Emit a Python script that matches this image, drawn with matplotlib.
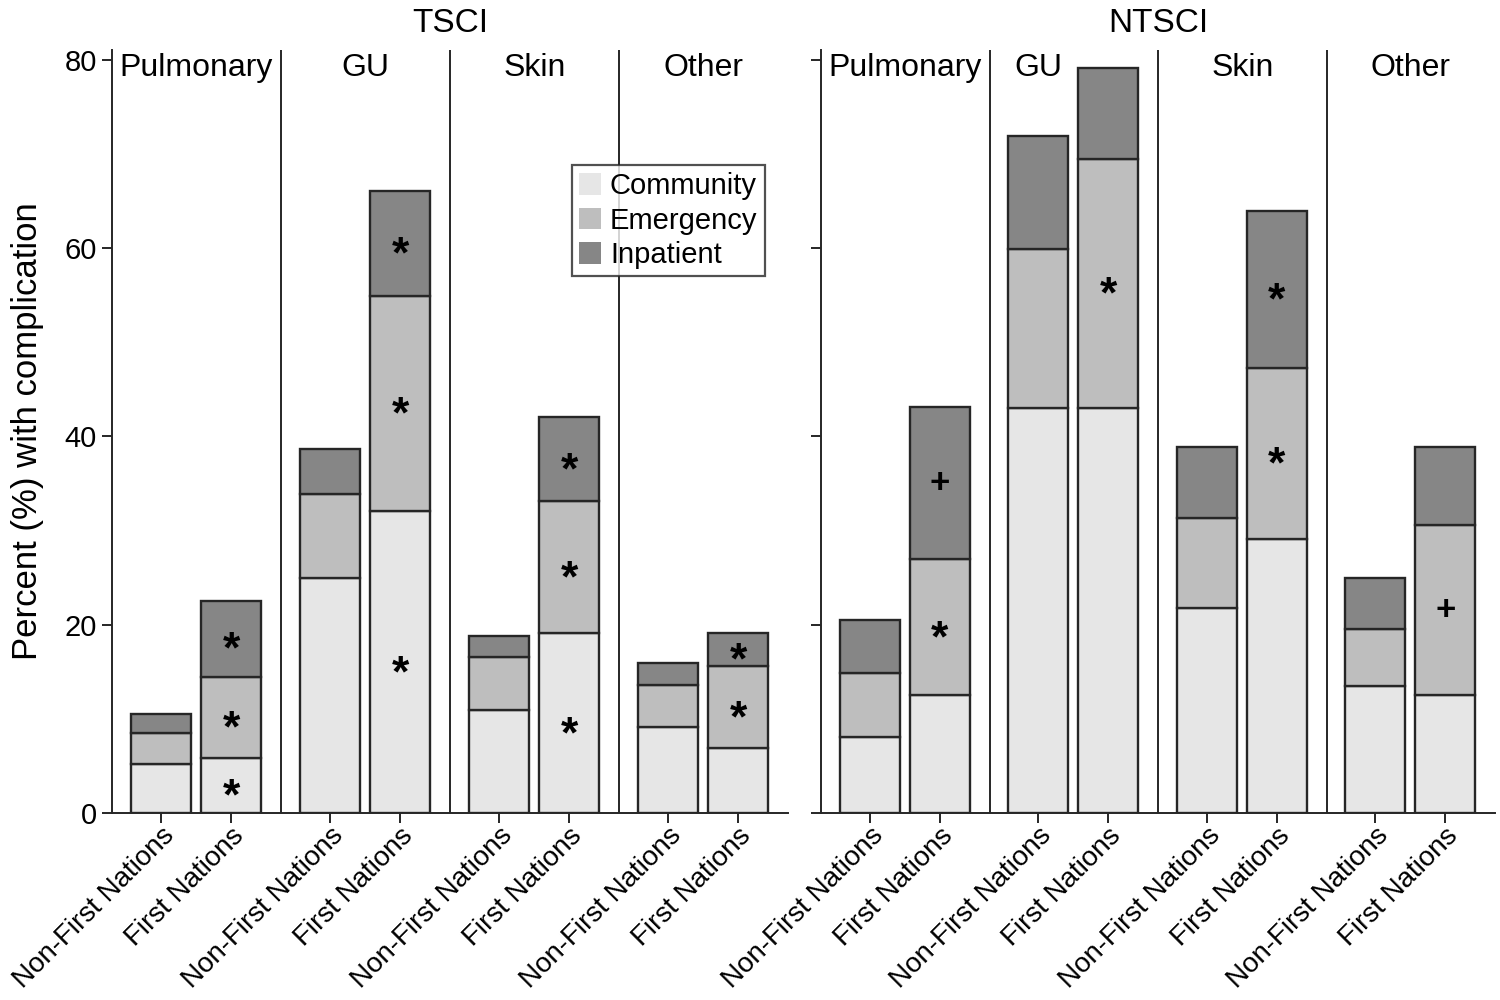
import matplotlib
matplotlib.use("Agg")
import matplotlib.pyplot as plt
from matplotlib.patches import Patch
import numpy as np

plt.rcParams['font.family'] = ['Liberation Sans', 'DejaVu Sans']

panels = ["TSCI", "NTSCI"]
groups = ["Pulmonary", "GU", "Skin", "Other"]
bar_labels = ["Non-First Nations", "First Nations"]
layers = ["Community", "Emergency", "Inpatient"]

# segment heights per layer: [panel][group][bar]
community = {
    "TSCI":  [[5.2, 5.8], [25.0, 32.1], [10.9, 19.1], [9.1, 6.9]],
    "NTSCI": [[8.1, 12.5], [43.0, 43.0], [21.8, 29.1], [13.5, 12.5]],
}
emergency = {
    "TSCI":  [[3.3, 8.7], [8.9, 22.8], [5.7, 14.0], [4.5, 8.7]],
    "NTSCI": [[6.8, 14.5], [16.9, 26.5], [9.5, 18.2], [6.0, 18.1]],
}
inpatient = {
    "TSCI":  [[2.0, 8.0], [4.8, 11.2], [2.2, 9.0], [2.3, 3.5]],
    "NTSCI": [[5.6, 16.1], [12.0, 9.7], [7.6, 16.7], [5.5, 8.3]],
}
# significance marks: (panel, group, bar, layer, symbol)
marks = [
    ("TSCI", 0, 1, 0, "*"), ("TSCI", 0, 1, 1, "*"), ("TSCI", 0, 1, 2, "*"),
    ("TSCI", 1, 1, 0, "*"), ("TSCI", 1, 1, 1, "*"), ("TSCI", 1, 1, 2, "*"),
    ("TSCI", 2, 1, 0, "*"), ("TSCI", 2, 1, 1, "*"), ("TSCI", 2, 1, 2, "*"),
    ("TSCI", 3, 1, 1, "*"), ("TSCI", 3, 1, 2, "*"),
    ("NTSCI", 0, 1, 1, "*"), ("NTSCI", 0, 1, 2, "+"),
    ("NTSCI", 1, 1, 1, "*"),
    ("NTSCI", 2, 1, 1, "*"), ("NTSCI", 2, 1, 2, "*"),
    ("NTSCI", 3, 1, 1, "+"),
]

colors = ["#e6e6e6", "#bebebe", "#868686"]
edge = "#262626"
offsets = [-0.21, 0.205]
bw = 0.355
# group label horizontal shift (NTSCI GU label sits over its first bar)
label_shift = {"TSCI": [0, 0, 0, 0], "NTSCI": [0, -0.21, 0, 0]}

W, H = 1500, 1000
fig = plt.figure(figsize=(15, 10), dpi=100)
axL = fig.add_axes([112 / W, 187 / H, 676 / W, 763 / H])
axR = fig.add_axes([821 / W, 187 / H, 674 / W, 763 / H])
axes = {"TSCI": axL, "NTSCI": axR}

for p in panels:
    ax = axes[p]
    data = [community[p], emergency[p], inpatient[p]]
    xs, labs = [], []
    for g in range(len(groups)):
        for b in range(2):
            x = g + offsets[b]
            xs.append(x)
            labs.append(bar_labels[b])
            bottom = 0
            for li in range(3):
                h = data[li][g][b]
                ax.bar(x, h, bw, bottom=bottom, color=colors[li], edgecolor=edge,
                       linewidth=1.7, zorder=2)
                bottom += h
        ax.text(g + label_shift[p][g], 79.1, groups[g], ha='center', va='center', fontsize=23)
    for s in [0.5, 1.5, 2.5]:
        ax.axvline(s, color=edge, lw=1.4, zorder=1)
    ax.set_xlim(-0.5, 3.5)
    ax.set_ylim(0, 81.06)
    ax.set_xticks(xs)
    ax.set_xticklabels(labs, rotation=45, ha='right', rotation_mode='anchor', fontsize=20)
    ax.set_yticks([0, 20, 40, 60, 80])
    ax.tick_params(axis='both', length=7, width=1.4, color=edge, labelsize=21, pad=4)
    ax.tick_params(axis='x', labelsize=20, pad=0)
    for sp in ['top', 'right']:
        ax.spines[sp].set_visible(False)
    for sp in ['left', 'bottom']:
        ax.spines[sp].set_linewidth(1.4)
        ax.spines[sp].set_color(edge)
    ax.set_title(p, fontsize=24, pad=13)

    for (pp, g, b, li, sym) in marks:
        if pp != p:
            continue
        lo = sum(data[k][g][b] for k in range(li))
        mid = lo + data[li][g][b] / 2
        if sym == "*":
            ax.annotate(sym, (g + offsets[b], mid), xytext=(0, -9), textcoords='offset points',
                        ha='center', va='center', fontsize=32, fontweight='bold', zorder=5)
        else:
            ax.annotate(sym, (g + offsets[b], mid), xytext=(0, 0), textcoords='offset points',
                        ha='center', va='center', fontsize=25, fontweight='bold', zorder=5)

axR.set_yticklabels([])
axL.set_ylabel("Percent (%) with complication", fontsize=25, labelpad=15)

handles = [Patch(facecolor=c, edgecolor='none') for c in colors]
leg = axL.legend(handles, layers, loc='upper left', bbox_to_anchor=(572 / W, 1 - 165 / H),
                 bbox_transform=fig.transFigure, fontsize=21, frameon=True, fancybox=False,
                 handlelength=0.75, handleheight=0.75, handletextpad=0.3, labelspacing=0.22,
                 borderpad=0.25, borderaxespad=0)
leg.get_frame().set_edgecolor(edge)
leg.get_frame().set_linewidth(1.6)
leg.set_zorder(10)

fig.savefig("out.png", dpi=100)
